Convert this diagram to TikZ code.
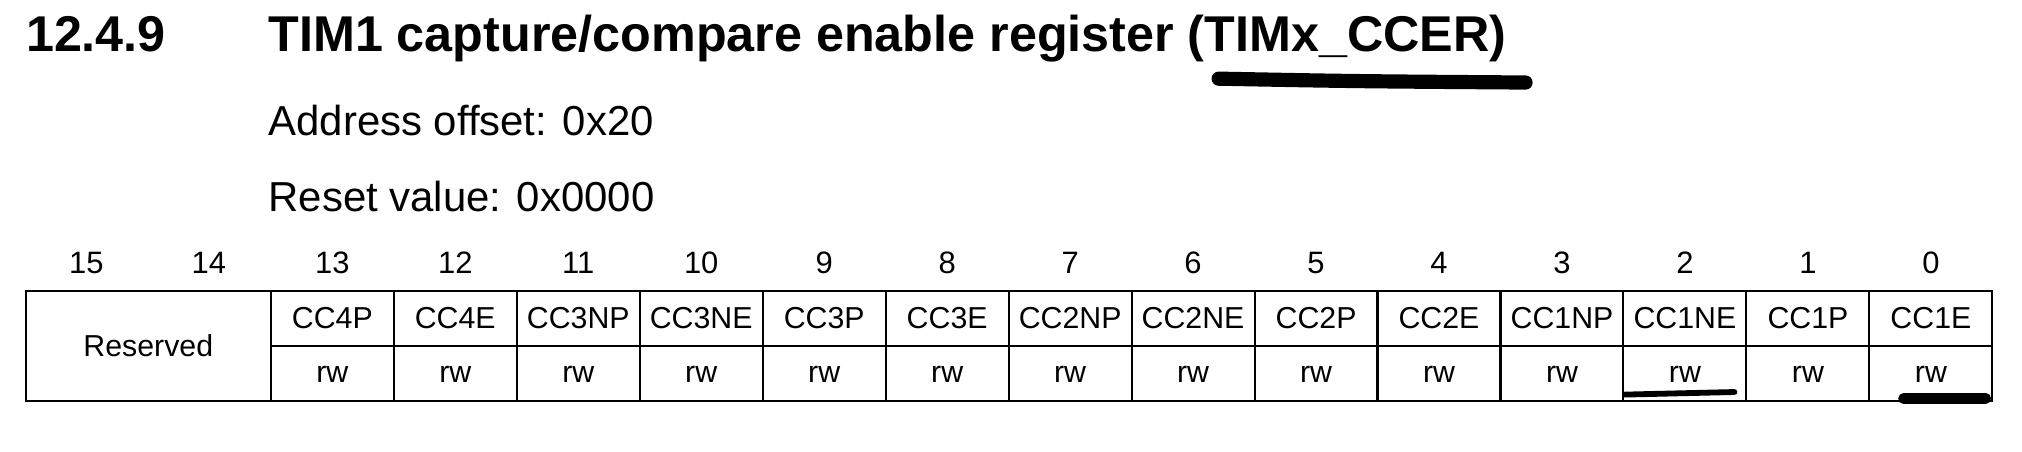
\documentclass[tikz,border=0pt]{standalone}
\usepackage{fontspec}
\setmainfont{Liberation Sans}
\begin{document}
\begin{tikzpicture}[x=1pt,y=-1pt,
  bitnum/.style={font=\fontsize{24}{26}\selectfont},
  cell/.style={font=\fontsize{23.5}{25}\selectfont},
  hdr/.style={font=\fontsize{32.5}{35}\selectfont, anchor=base west, inner sep=0},
  ttl/.style={font=\fontsize{39}{42}\selectfont\bfseries, anchor=base west, inner sep=0},
  grid/.style={line width=1.6pt},
  scribble/.style={line cap=round, draw=black}]
\useasboundingbox (0,0) rectangle (1568,350);
\node[ttl] (num) at (20,40) {12.4.9};
\node[ttl] (title) at (208,40) {TIM1 capture/compare enable register (TIMx\_CCER)};
\node[hdr] (addr) at (208,105) {Address offset: 0x20};
\node[hdr] (reset) at (208,164) {Reset value: 0x0000};
% table
\draw[grid] (20,226) rectangle (1545,311);
\draw[grid] (210,268) -- (1545,268);
\foreach \i in {0,...,13}{
  \draw[grid] ({210+\i*95.357},226) -- ({210+\i*95.357},311);
}
\node[bitnum] (b15) at (67,204) {15};
\node[bitnum] (b14) at (162,204) {14};
\node[cell] (res) at (115,268) {Reserved};
\foreach \n [count=\i from 0] in {CC4P,CC4E,CC3NP,CC3NE,CC3P,CC3E,CC2NP,CC2NE,CC2P,CC2E,CC1NP,CC1NE,CC1P,CC1E}{
  \pgfmathtruncatemacro{\b}{13-\i}
  \node[bitnum] (bit\b) at ({257.7+\i*95.357},204) {\b};
  \node[cell] (f\b) at ({257.7+\i*95.357},247) {\n};
  \node[cell] (a\b) at ({257.7+\i*95.357},290) {rw};
}
% hand-drawn marks
\draw[scribble, line width=11pt] (945,61) .. controls (1050,63) .. (1183,64);
\draw[scribble, line width=4.5pt] (1260,306) -- (1345,304);
\draw[scribble, line width=8pt] (1476,309) -- (1540,309);
\end{tikzpicture}
\end{document}
